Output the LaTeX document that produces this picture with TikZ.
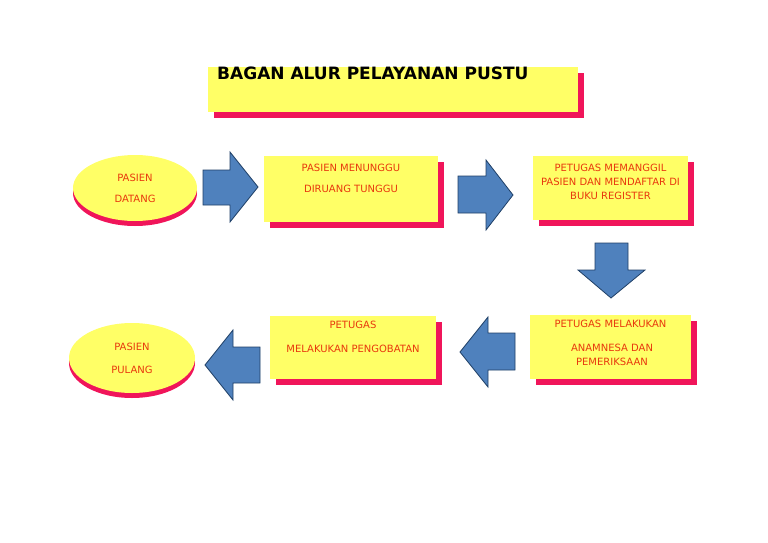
\documentclass[tikz,border=0pt]{standalone}
\usepackage{fontspec}
\setmainfont{DejaVu Sans}
\usetikzlibrary{shapes.arrows}
\definecolor{yel}{HTML}{FFFF66}
\definecolor{shad}{HTML}{F0155A}
\definecolor{txt}{HTML}{E8380D}
\definecolor{arr}{HTML}{4F81BD}
\definecolor{arrd}{HTML}{1F3F66}
\tikzset{x=1pt,y=-1pt,
 lbl/.style={text=txt,font=\fontsize{10}{21}\selectfont,align=center},
 lbls/.style={text=txt,font=\fontsize{10}{14}\selectfont,align=center},
 arrw/.style={fill=arr,draw=arrd,line width=0.8pt,line join=miter}}
\newcommand{\shbox}[5]{% x1 y1 x2 y2 name
 \fill[shad] (#1+6,#2+6) rectangle (#3+6,#4+6);
 \fill[yel] (#1,#2) rectangle (#3,#4);
 \coordinate (#5) at ({(#1+#3)/2},#2);}
\begin{document}
\begin{tikzpicture}
\useasboundingbox (0,0) rectangle (768,543);
\shbox{208}{67}{578}{112}{t}
\node[anchor=north west,font=\bfseries\fontsize{17}{20}\selectfont,inner sep=0] (title) at (217,67) {BAGAN ALUR PELAYANAN PUSTU};
\fill[shad] (135,193) ellipse [x radius=62,y radius=33];
\fill[yel] (135,188) ellipse [x radius=62,y radius=33];
\node[lbl] (e1) at (135,188) {PASIEN\\DATANG};
\draw[arrw] (203,170) -- (230,170) -- (230,152) -- (258,187) -- (230,222) -- (230,205) -- (203,205) -- cycle;
\shbox{264}{156}{438}{222}{b2}
\node[lbl,anchor=north] (n2) at ([yshift=-5]b2) {PASIEN MENUNGGU\\DIRUANG TUNGGU};
\draw[arrw] (458,176) -- (486,176) -- (486,160) -- (513,195) -- (486,230) -- (486,213) -- (458,213) -- cycle;
\shbox{533}{156}{688}{220}{b3}
\node[lbls,anchor=north] (n3) at ([yshift=-5]b3) {PETUGAS MEMANGGIL\\PASIEN DAN MENDAFTAR DI\\BUKU REGISTER};
\draw[arrw] (595,243) -- (628,243) -- (628,270) -- (645,270) -- (611,298) -- (578,270) -- (595,270) -- cycle;
\shbox{530}{315}{691}{379}{b4}
\node[lbl,anchor=north] (n4) at ([yshift=-2]b4) {PETUGAS MELAKUKAN};
\node[lbls] (n4b) at (612,355) {ANAMNESA DAN\\PEMERIKSAAN};
\draw[arrw] (515,333) -- (488,333) -- (488,317) -- (460,352) -- (488,387) -- (488,370) -- (515,370) -- cycle;
\shbox{270}{316}{436}{379}{b5}
\node[lbl,anchor=north,font=\fontsize{10}{24}\selectfont] (n5) at ([yshift=-2]b5) {PETUGAS\\MELAKUKAN PENGOBATAN};
\draw[arrw] (260,347) -- (233,347) -- (233,330) -- (205,365) -- (233,400) -- (233,383) -- (260,383) -- cycle;
\fill[shad] (132,363) ellipse [x radius=63,y radius=35];
\fill[yel] (132,358) ellipse [x radius=63,y radius=35];
\node[lbl,font=\fontsize{10}{23}\selectfont] (e2) at (132,358) {PASIEN\\PULANG};
\end{tikzpicture}
\end{document}
